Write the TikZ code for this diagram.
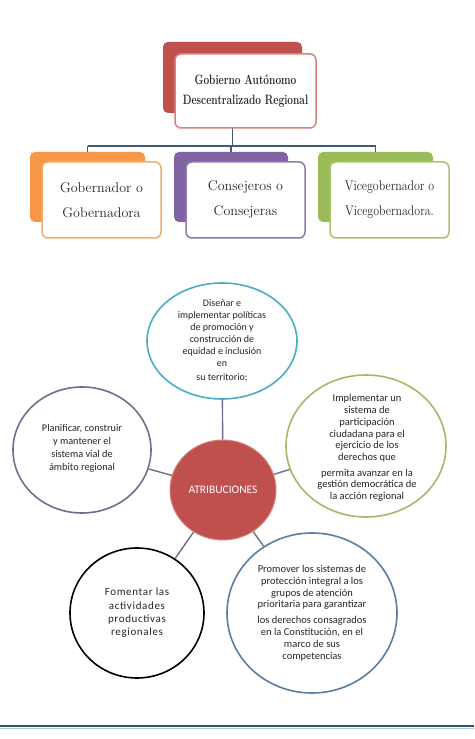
\documentclass[tikz,border=0pt]{standalone}
\usepackage{fontspec}
\newfontfamily\carl{Carlito}
\usetikzlibrary{shapes.geometric}
\definecolor{cRed}{HTML}{C0504D}
\definecolor{cRedL}{HTML}{D4837F}
\definecolor{cOrange}{HTML}{F79646}
\definecolor{cOrangeL}{HTML}{F6AC68}
\definecolor{cPurple}{HTML}{8064A2}
\definecolor{cPurpleL}{HTML}{8E78AE}
\definecolor{cGreen}{HTML}{9BBB59}
\definecolor{cGreenL}{HTML}{A8C472}
\definecolor{cOrg}{HTML}{3E5C78}
\definecolor{cTeal}{HTML}{4BACC6}
\definecolor{cOlive}{HTML}{A3BA6A}
\definecolor{cGrayP}{HTML}{736C8C}
\definecolor{cBlue}{HTML}{5A7DA2}
\definecolor{cLink}{HTML}{6E6E90}
\definecolor{cDark}{HTML}{3A5060}
\definecolor{cLight}{HTML}{A8CCE0}
\definecolor{cText}{HTML}{262626}
\tikzset{
  backbox/.style={rectangle, rounded corners=5pt, draw=none, inner sep=0},
  frontbox/.style={rectangle, rounded corners=6pt, fill=white, line width=1.5pt, align=center, inner sep=0, text=cText},
  orgline/.style={draw=cOrg, line width=1.5pt},
  circ/.style={ellipse, inner sep=0, line width=1.6pt},
  ctext/.style={align=center, text=cText, inner sep=0},
  link/.style={draw=cLink, line width=1.4pt},
  boxfont/.style={font=\fontsize{14}{25}\selectfont}
}
\newcommand{\cnd}[1]{\scalebox{0.85}[1]{#1}}
\newcommand{\cndd}[1]{\scalebox{0.75}[1]{#1}}
\begin{document}
\begin{tikzpicture}[x=1pt,y=1pt]
\useasboundingbox (0,0) rectangle (474,739);
\fill[white] (0,0) rectangle (474,739);

% back boxes
\node[backbox, fill=cRed, minimum width=139, minimum height=71] (gadb) at (232.5,661.5) {};
\node[backbox, fill=cOrange, minimum width=115, minimum height=70] (ob) at (87.5,552) {};
\node[backbox, fill=cPurple, minimum width=114, minimum height=70] (pb) at (231,552) {};
\node[backbox, fill=cGreen, minimum width=115, minimum height=70] (gb) at (375.5,552) {};

% org connectors
\coordinate (bar) at (0,593);
\draw[orgline] (gadb.south) -- (gadb.south |- bar);
\draw[orgline] (ob.north |- bar) -- (gb.north |- bar);
\draw[orgline] (ob.north |- bar) -- (ob.north);
\draw[orgline] (pb.north |- bar) -- (pb.north);
\draw[orgline] (gb.north |- bar) -- (gb.north);

% front boxes
\node[frontbox, draw=cRedL, minimum width=141, minimum height=74,
      font=\fontsize{13.5}{20}\selectfont\bfseries] (gad) at (245.5,648)
      {\cndd{Gobierno Autónomo}\\\cndd{Descentralizado Regional}};
\node[frontbox, boxfont, draw=cOrangeL, minimum width=119, minimum height=76] (of) at (101.5,539)
      {Gobernador o\\Gobernadora};
\node[frontbox, boxfont, draw=cPurpleL, minimum width=119, minimum height=76] (pf) at (245.5,539)
      {Consejeros o\\Consejeras};
\node[frontbox, boxfont, draw=cGreenL, minimum width=119, minimum height=76] (gf) at (389.5,539)
      {\cnd{Vicegobernador o}\\\cnd{Vicegobernadora.}};

% circles
\node[circ, draw=cTeal, fill=white, minimum width=150, minimum height=116] (tc) at (222,398) {};
\node[circ, draw=cOlive, fill=white, minimum width=160, minimum height=142] (rc) at (366,293) {};
\node[circ, draw=cGrayP, fill=white, minimum width=138, minimum height=126] (lc) at (82,289) {};
\node[circ, draw=black, fill=white, minimum width=134, minimum height=130] (blc) at (137,126) {};
\node[circ, draw=cBlue, fill=white, minimum width=170, minimum height=160] (brc) at (312,126) {};
\node[circ, fill=cRed, draw=cRedL, line width=1pt, minimum width=106, minimum height=100,
      text=white, font=\carl\fontsize{11.5}{12}\selectfont] (red) at (223,249) {ATRIBUCIONES};

% links
\draw[link] (red) -- (tc);
\draw[link] (red) -- (rc);
\draw[link] (red) -- (lc);
\draw[link] (red) -- (blc);
\draw[link] (red) -- (brc);

% circle texts
\node[ctext, font=\carl\fontsize{10}{12}\selectfont] (tct) at (222,398) {Diseñar e\\implementar políticas\\de promoción y\\construcción de\\equidad e inclusión\\en\\[2pt]su territorio;};
\node[ctext, font=\carl\fontsize{10.5}{11.7}\selectfont] (rct) at (367,291) {Implementar un\\sistema de\\participación\\ciudadana para el\\ejercicio de los\\derechos que\\[4pt]permita avanzar en la\\gestión democrática de\\la acción regional};
\node[ctext, font=\carl\fontsize{10.3}{13}\selectfont] (lct) at (82,291) {Planificar, construir\\y mantener el\\sistema vial de\\ámbito regional};
\node[ctext, font=\carl\fontsize{11}{13.3}\selectfont\addfontfeature{LetterSpace=6}] (blct) at (137,126) {Fomentar las\\actividades\\productivas\\regionales};
\node[ctext, font=\carl\fontsize{10.5}{11.8}\selectfont] (brct) at (312,126) {Promover los sistemas de\\protección integral a los\\grupos de atención\\prioritaria para garantizar\\[4pt]los derechos consagrados\\en la Constitución, en el\\marco de sus\\competencias};

% bottom rule
\draw[cDark, line width=2pt] (0,12.5) -- (474,12.5);
\draw[cLight, line width=1pt] (0,10.5) -- (474,10.5);
\end{tikzpicture}
\end{document}
